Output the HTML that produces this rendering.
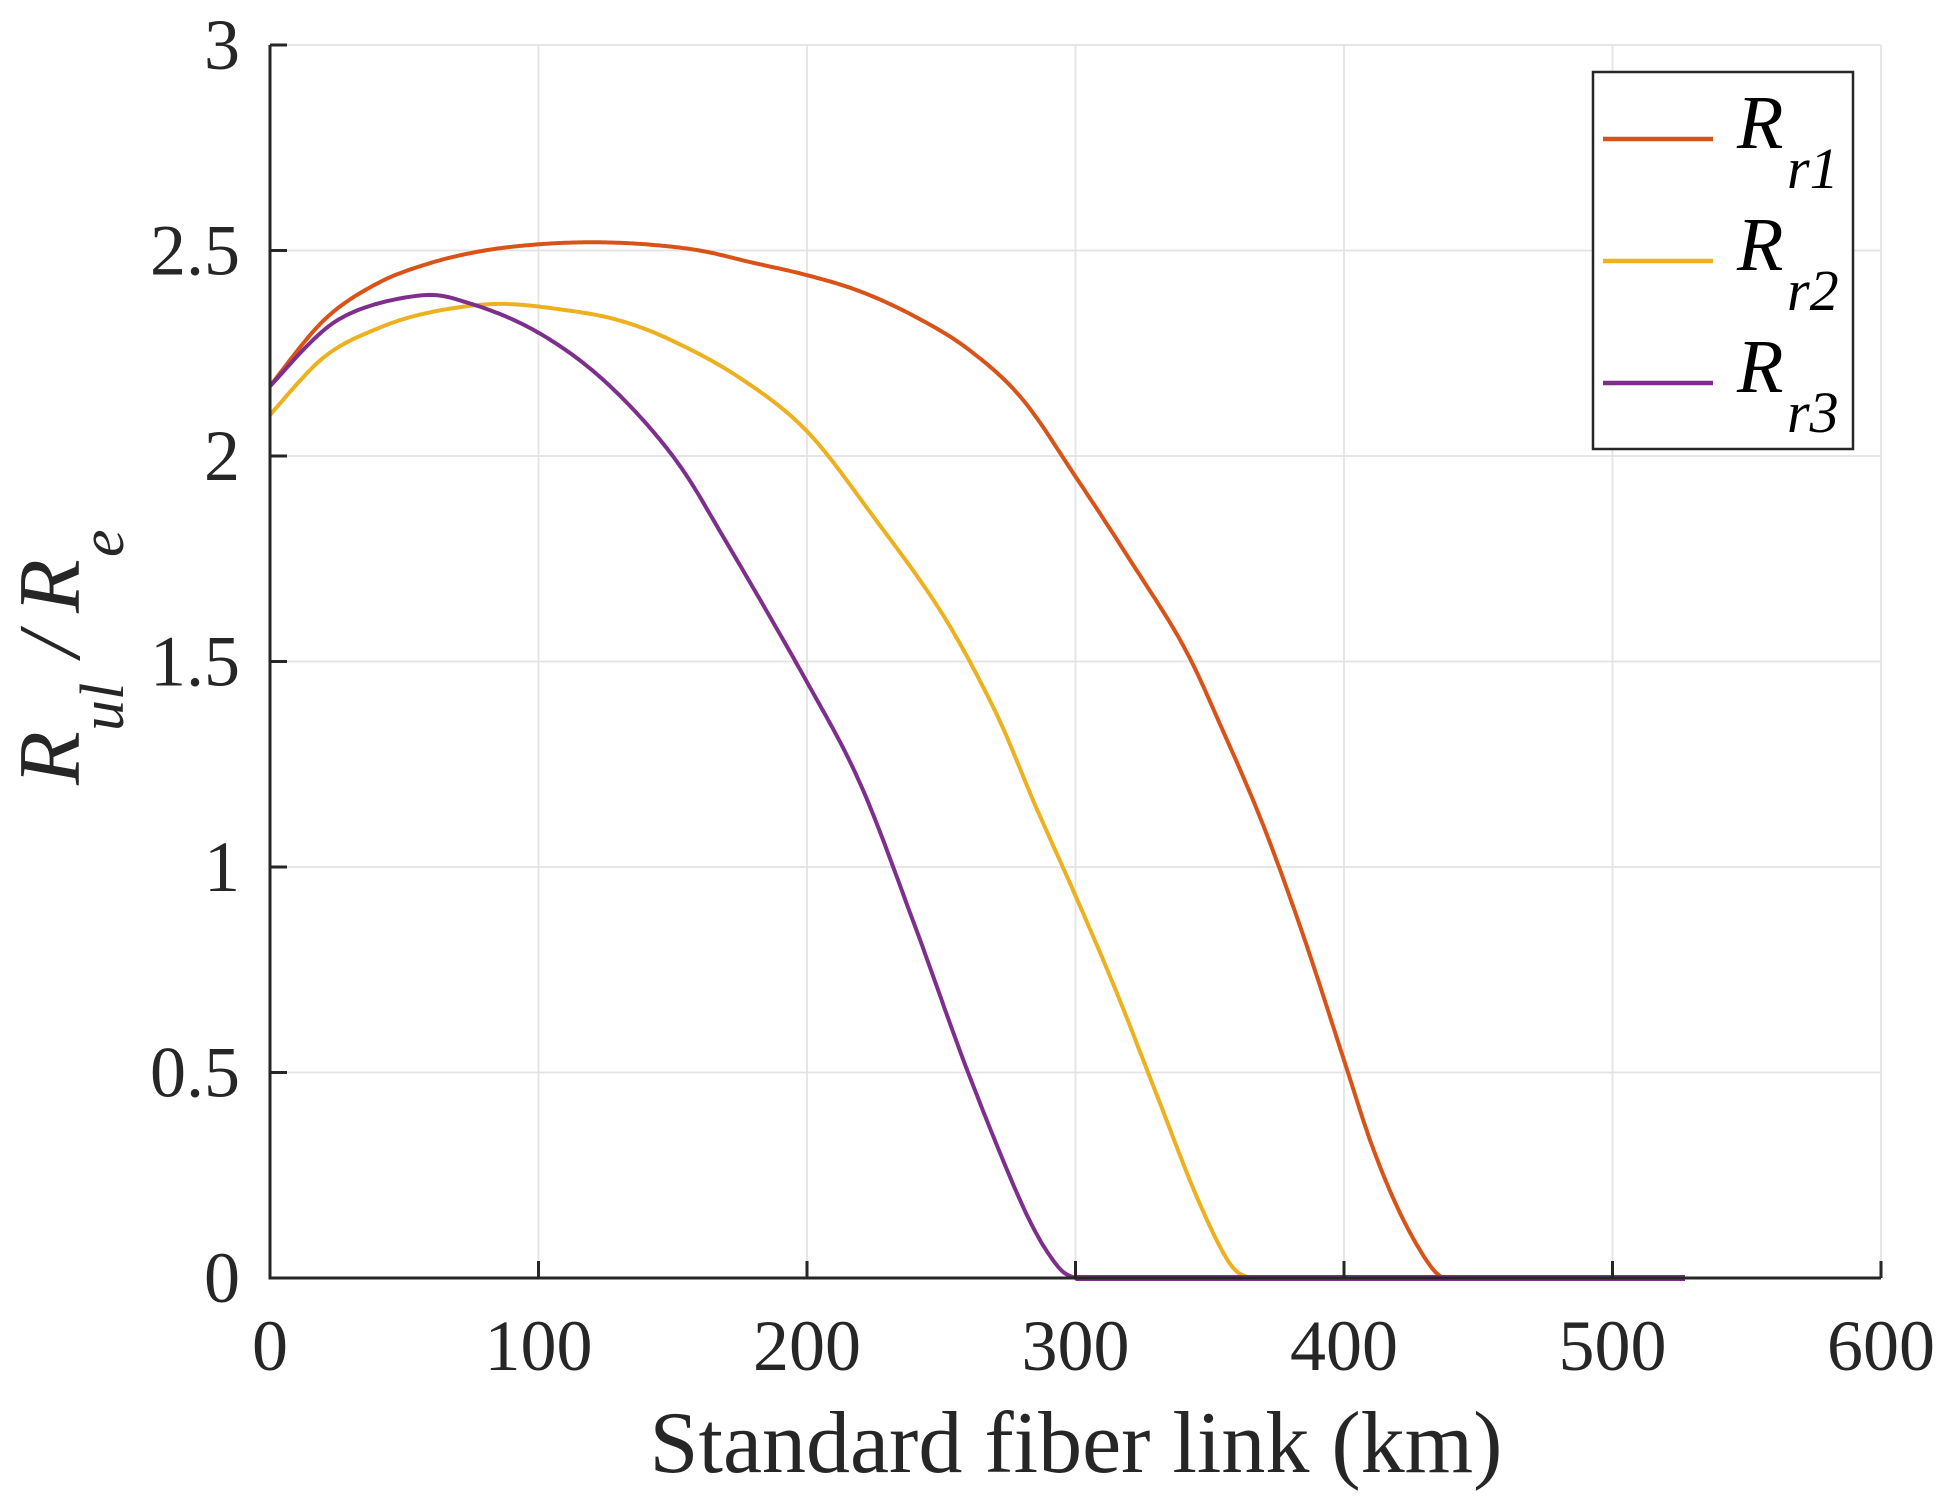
<!DOCTYPE html>
<html><head><meta charset="utf-8"><style>
html,body{margin:0;padding:0;background:#fff}
svg{display:block}
text{font-family:"Liberation Serif",serif;fill:#262626}
.it{font-style:italic;fill:#000}
</style></head><body>
<svg id="s" width="1948" height="1504" viewBox="0 0 1948 1504" xmlns="http://www.w3.org/2000/svg">
<rect width="1948" height="1504" fill="#fff"/>
<g id="grid" stroke="#e3e3e3" stroke-width="1.8"></g>
<g id="curves" fill="none" stroke-width="4" stroke-linejoin="round"></g>
<g id="axes" stroke="#262626" stroke-width="3" fill="none"></g>
<g id="labels" font-size="72"></g>
<text x="1076" y="1472" font-size="88" text-anchor="middle">Standard fiber link (km)</text>
<g transform="translate(79,785) rotate(-90)">
<text class="it" x="0" y="0" font-size="88" style="fill:#262626">R</text>
<text class="it" x="54" y="44" font-size="62" style="fill:#262626">ul</text>
<text class="it" x="128" y="0" font-size="88" style="fill:#262626">/</text>
<text class="it" x="172" y="0" font-size="88" style="fill:#262626">R</text>
<text class="it" x="228" y="44" font-size="62" style="fill:#262626">e</text>
</g>
<rect x="1593" y="72" width="260" height="377" fill="#fff" stroke="#262626" stroke-width="2.5"/>
<line x1="1603" y1="139" x2="1713" y2="139" stroke="#D95319" stroke-width="4.5"/>
<line x1="1603" y1="261" x2="1713" y2="261" stroke="#EDB120" stroke-width="4.5"/>
<line x1="1603" y1="383" x2="1713" y2="383" stroke="#7E2F8E" stroke-width="4.5"/>
<text class="it" x="1737" y="148" font-size="76">R</text><text class="it" x="1787" y="188" font-size="58">r1</text>
<text class="it" x="1737" y="270" font-size="76">R</text><text class="it" x="1787" y="310" font-size="58">r2</text>
<text class="it" x="1737" y="392" font-size="76">R</text><text class="it" x="1787" y="432" font-size="58">r3</text>
</svg>
<script>
const NS="http://www.w3.org/2000/svg";
const X=v=>270+v*268.5, Y=v=>1278-v*411;
function el(p,t,a){const e=document.createElementNS(NS,t);for(const k in a)e.setAttribute(k,a[k]);p.appendChild(e);return e;}
const g=document.getElementById('grid'),ax=document.getElementById('axes'),lb=document.getElementById('labels');
for(let i=1;i<=6;i++)el(g,'line',{x1:X(i),y1:45,x2:X(i),y2:1278});
for(let j=1;j<=6;j++)el(g,'line',{x1:270,y1:Y(j/2),x2:1881,y2:Y(j/2)});
el(ax,'line',{x1:270,y1:45,x2:270,y2:1278});
el(ax,'line',{x1:268.5,y1:1278,x2:1881,y2:1278});
for(let i=0;i<=6;i++){el(ax,'line',{x1:X(i),y1:1278,x2:X(i),y2:1261});
 const t=el(lb,'text',{x:X(i),y:1370,'text-anchor':'middle'});t.textContent=i*100;}
for(let j=0;j<=6;j++){el(ax,'line',{x1:270,y1:Y(j/2),x2:287,y2:Y(j/2)});
 const t=el(lb,'text',{x:240,y:Y(j/2)+24,'text-anchor':'end'});t.textContent=(j/2).toString();}
function cr(pts){let out=[];for(let i=0;i<pts.length-1;i++){const p0=pts[Math.max(0,i-1)],p1=pts[i],p2=pts[i+1],p3=pts[Math.min(pts.length-1,i+2)];
 for(let k=0;k<20;k++){const t=k/20,t2=t*t,t3=t2*t;
 const f=(a,b,c,d)=>0.5*(2*b+(-a+c)*t+(2*a-5*b+4*c-d)*t2+(-a+3*b-3*c+d)*t3);
 out.push([f(p0[0],p1[0],p2[0],p3[0]),Math.max(0,f(p0[1],p1[1],p2[1],p3[1]))]);}}
 out.push(pts[pts.length-1]);return out;}
const c=document.getElementById('curves');
function draw(pts,col){const q=cr(pts);el(c,'polyline',{points:q.map(p=>X(p[0]/100).toFixed(1)+','+Y(p[1]).toFixed(1)).join(' '),stroke:col});}
draw([[0,2.17],[20,2.33],[40,2.42],[60,2.47],[80,2.50],[100,2.515],[120,2.52],[140,2.515],[160,2.5],[180,2.47],[200,2.44],[220,2.4],[240,2.34],[260,2.26],[280,2.14],[300,1.95],[320,1.75],[340,1.54],[355,1.33],[370,1.1],[385,0.83],[400,0.53],[410,0.33],[420,0.17],[430,0.05],[437,0],[445,0]],'#D95319');
draw([[0,2.1],[20,2.24],[40,2.31],[60,2.35],[85,2.37],[110,2.355],[130,2.33],[150,2.28],[175,2.19],[200,2.06],[225,1.85],[250,1.62],[270,1.38],[285,1.15],[300,0.93],[315,0.7],[330,0.45],[345,0.2],[357,0.04],[365,0],[372,0]],'#EDB120');
draw([[0,2.17],[25,2.33],[55,2.39],[75,2.37],[100,2.3],[125,2.18],[150,2.0],[170,1.79],[200,1.45],[220,1.2],[240,0.86],[260,0.5],[280,0.18],[292,0.04],[300,0],[310,0]],'#7E2F8E');
el(c,'line',{x1:X(3),y1:1278,x2:X(5.27),y2:1278,stroke:'#7E2F8E','stroke-width':6});
</script>
</body></html>
